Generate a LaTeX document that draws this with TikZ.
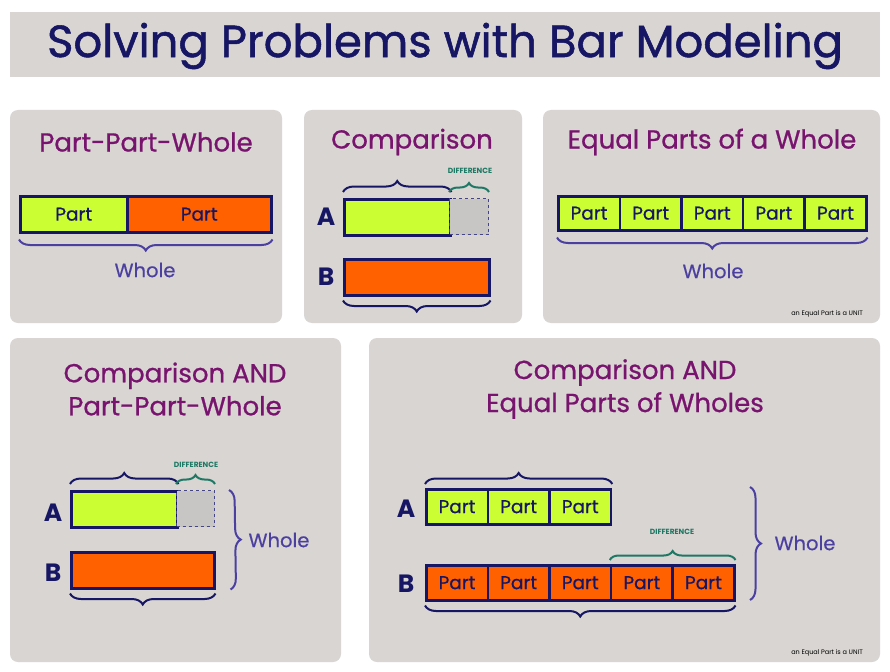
\documentclass[tikz,border=0pt]{standalone}
\usepackage{fontspec}
\setmainfont{Poppins}
\usetikzlibrary{decorations.pathreplacing,positioning}
\definecolor{panel}{RGB}{216,213,210}
\definecolor{navy}{RGB}{22,22,100}
\definecolor{ttl}{RGB}{120,20,110}
\definecolor{lime}{RGB}{204,255,51}
\definecolor{orng}{RGB}{255,96,0}
\definecolor{slate}{RGB}{75,63,160}
\definecolor{teal2}{RGB}{30,120,100}
\definecolor{dgray}{RGB}{200,198,196}
\begin{document}
\begin{tikzpicture}[x=1pt,y=-1pt,
  pnl/.style={fill=panel,rounded corners=8pt,draw=none},
  ptitle/.style={text=ttl,font=\addfontfeatures{FakeBold=0.8}\fontsize{26}{33}\selectfont,align=center},
  barg/.style={draw=navy,line width=2.5pt,fill=lime,anchor=north west,inner sep=0pt,font=\addfontfeatures{FakeBold=0.6}\fontsize{18.5}{20}\selectfont,text=navy},
  baro/.style={barg,fill=orng},
  diffbox/.style={draw=navy!80,dashed,line width=1pt,fill=dgray,anchor=north west,inner sep=0pt},
  lab/.style={text=navy,font=\bfseries\fontsize{25}{28}\selectfont},
  brc/.style={decorate,decoration={brace,amplitude=11pt},draw=navy,line width=2pt},
  brt/.style={decorate,decoration={brace,amplitude=9pt},draw=teal2,line width=2pt},
  brs/.style={decorate,decoration={brace,amplitude=11pt},draw=slate,line width=2pt},
  whl/.style={text=slate,font=\addfontfeatures{FakeBold=0.4}\fontsize{19.5}{22}\selectfont},
  dif/.style={text=teal2,font=\bfseries\fontsize{7.5}{10}\selectfont},
  note/.style={font=\fontsize{6.5}{9}\selectfont}]
\useasboundingbox (0,0) rectangle (890,671);
\fill[white] (0,0) rectangle (890,671);
% title
\fill[panel] (10,12) rectangle (880,77);
\node[text=navy,font=\addfontfeatures{FakeBold=1.2}\fontsize{45}{50}\selectfont] (title) at (445,46) {Solving Problems with Bar Modeling};
% panels
\fill[pnl] (10,110) rectangle (282,323);
\fill[pnl] (304,110) rectangle (522,323);
\fill[pnl] (543,110) rectangle (880,323);
\fill[pnl] (10,338) rectangle (341,662);
\fill[pnl] (369,338) rectangle (880,662);
% P1
\node[ptitle] (t1) at (146,142) {Part-Part-Whole};
\node[barg,minimum width=107pt,minimum height=36pt] (p1a) at (19,195) {Part};
\node[baro,minimum width=144pt,minimum height=36pt] (p1b) at (126,195) {Part};
\draw[brs] ([yshift=-6pt]p1b.south east) -- ([yshift=-6pt]p1a.south west);
\node[whl] (w1) at (145,270) {Whole};
% P2
\node[ptitle] (t2) at (412,142) {Comparison};
\node[barg,minimum width=106pt,minimum height=36pt] (p2a) at (343,198) {};
\node[diffbox,minimum width=39pt,minimum height=36pt] (p2d) at (449,198) {};
\node[baro,minimum width=145pt,minimum height=36pt] (p2b) at (343,258) {};
\node[lab] (la2) at (326,217) {A};
\node[lab] (lb2) at (326,277) {B};
\draw[brc] ([yshift=6pt]p2a.north west) -- ([yshift=6pt]p2a.north east);
\draw[brt] ([yshift=6pt]p2d.north west) -- ([yshift=6pt]p2d.north east);
\node[dif] (d2) at (470,171) {DIFFERENCE};
\draw[brc] ([yshift=-4pt]p2b.south east) -- ([yshift=-4pt]p2b.south west);
% P3
\node[ptitle] (t3) at (712,142) {Equal Parts of a Whole};
\foreach \i in {0,...,4}{
  \node[barg,minimum width=61.6pt,minimum height=34pt] (p3\i) at (557+61.6*\i,195) {Part};}
\draw[brs] ([yshift=-6pt]p34.south east) -- ([yshift=-6pt]p30.south west);
\node[whl] (w3) at (713,271) {Whole};
\node[note] (n3) at (827,314) {an Equal Part is a UNIT};
% P4
\node[ptitle] (t4) at (175,389) {Comparison AND\\Part-Part-Whole};
\node[barg,minimum width=106pt,minimum height=36pt] (p4a) at (70,490) {};
\node[diffbox,minimum width=38pt,minimum height=36pt] (p4d) at (176,490) {};
\node[baro,minimum width=143pt,minimum height=36pt] (p4b) at (70,551) {};
\node[lab] (la4) at (53,513) {A};
\node[lab] (lb4) at (53,573) {B};
\draw[brc] ([yshift=6pt]p4a.north west) -- ([yshift=6pt]p4a.north east);
\draw[brt] ([yshift=6pt]p4d.north west) -- ([yshift=6pt]p4d.north east);
\node[dif] (d4) at (196,465) {DIFFERENCE};
\draw[brc] ([yshift=-4pt]p4b.south east) -- ([yshift=-4pt]p4b.south west);
\draw[brs] ([xshift=14pt]p4d.north east) -- ([xshift=15pt]p4b.south east);
\node[whl,anchor=west] (w4) at (245,540) {Whole};
% P5
\node[ptitle] (t5) at (625,389) {Comparison AND\\Equal Parts of Wholes};
\foreach \i in {0,...,2}{
  \node[barg,minimum width=61.6pt,minimum height=35pt] (a\i) at (425+61.6*\i,488) {Part};}
\foreach \i in {0,...,4}{
  \node[baro,minimum width=61.6pt,minimum height=35pt] (b\i) at (425+61.6*\i,564) {Part};}
\node[lab] (la5) at (406,509) {A};
\node[lab] (lb5) at (406,584) {B};
\draw[brc] ([yshift=4pt]a0.north west) -- ([yshift=4pt]a2.north east);
\draw[brt] ([yshift=4pt]b3.north west) -- ([yshift=4pt]b4.north east);
\node[dif] (d5) at (672,532) {DIFFERENCE};
\draw[brc] ([yshift=-4pt]b4.south east) -- ([yshift=-4pt]b0.south west);
\coordinate (r5t) at (750,487);
\coordinate (r5b) at (750,600);
\draw[brs] (r5t) -- (r5b);
\node[whl,anchor=west] (w5) at (771,543) {Whole};
\node[note] (n5) at (827,653) {an Equal Part is a UNIT};
\end{tikzpicture}
\end{document}
